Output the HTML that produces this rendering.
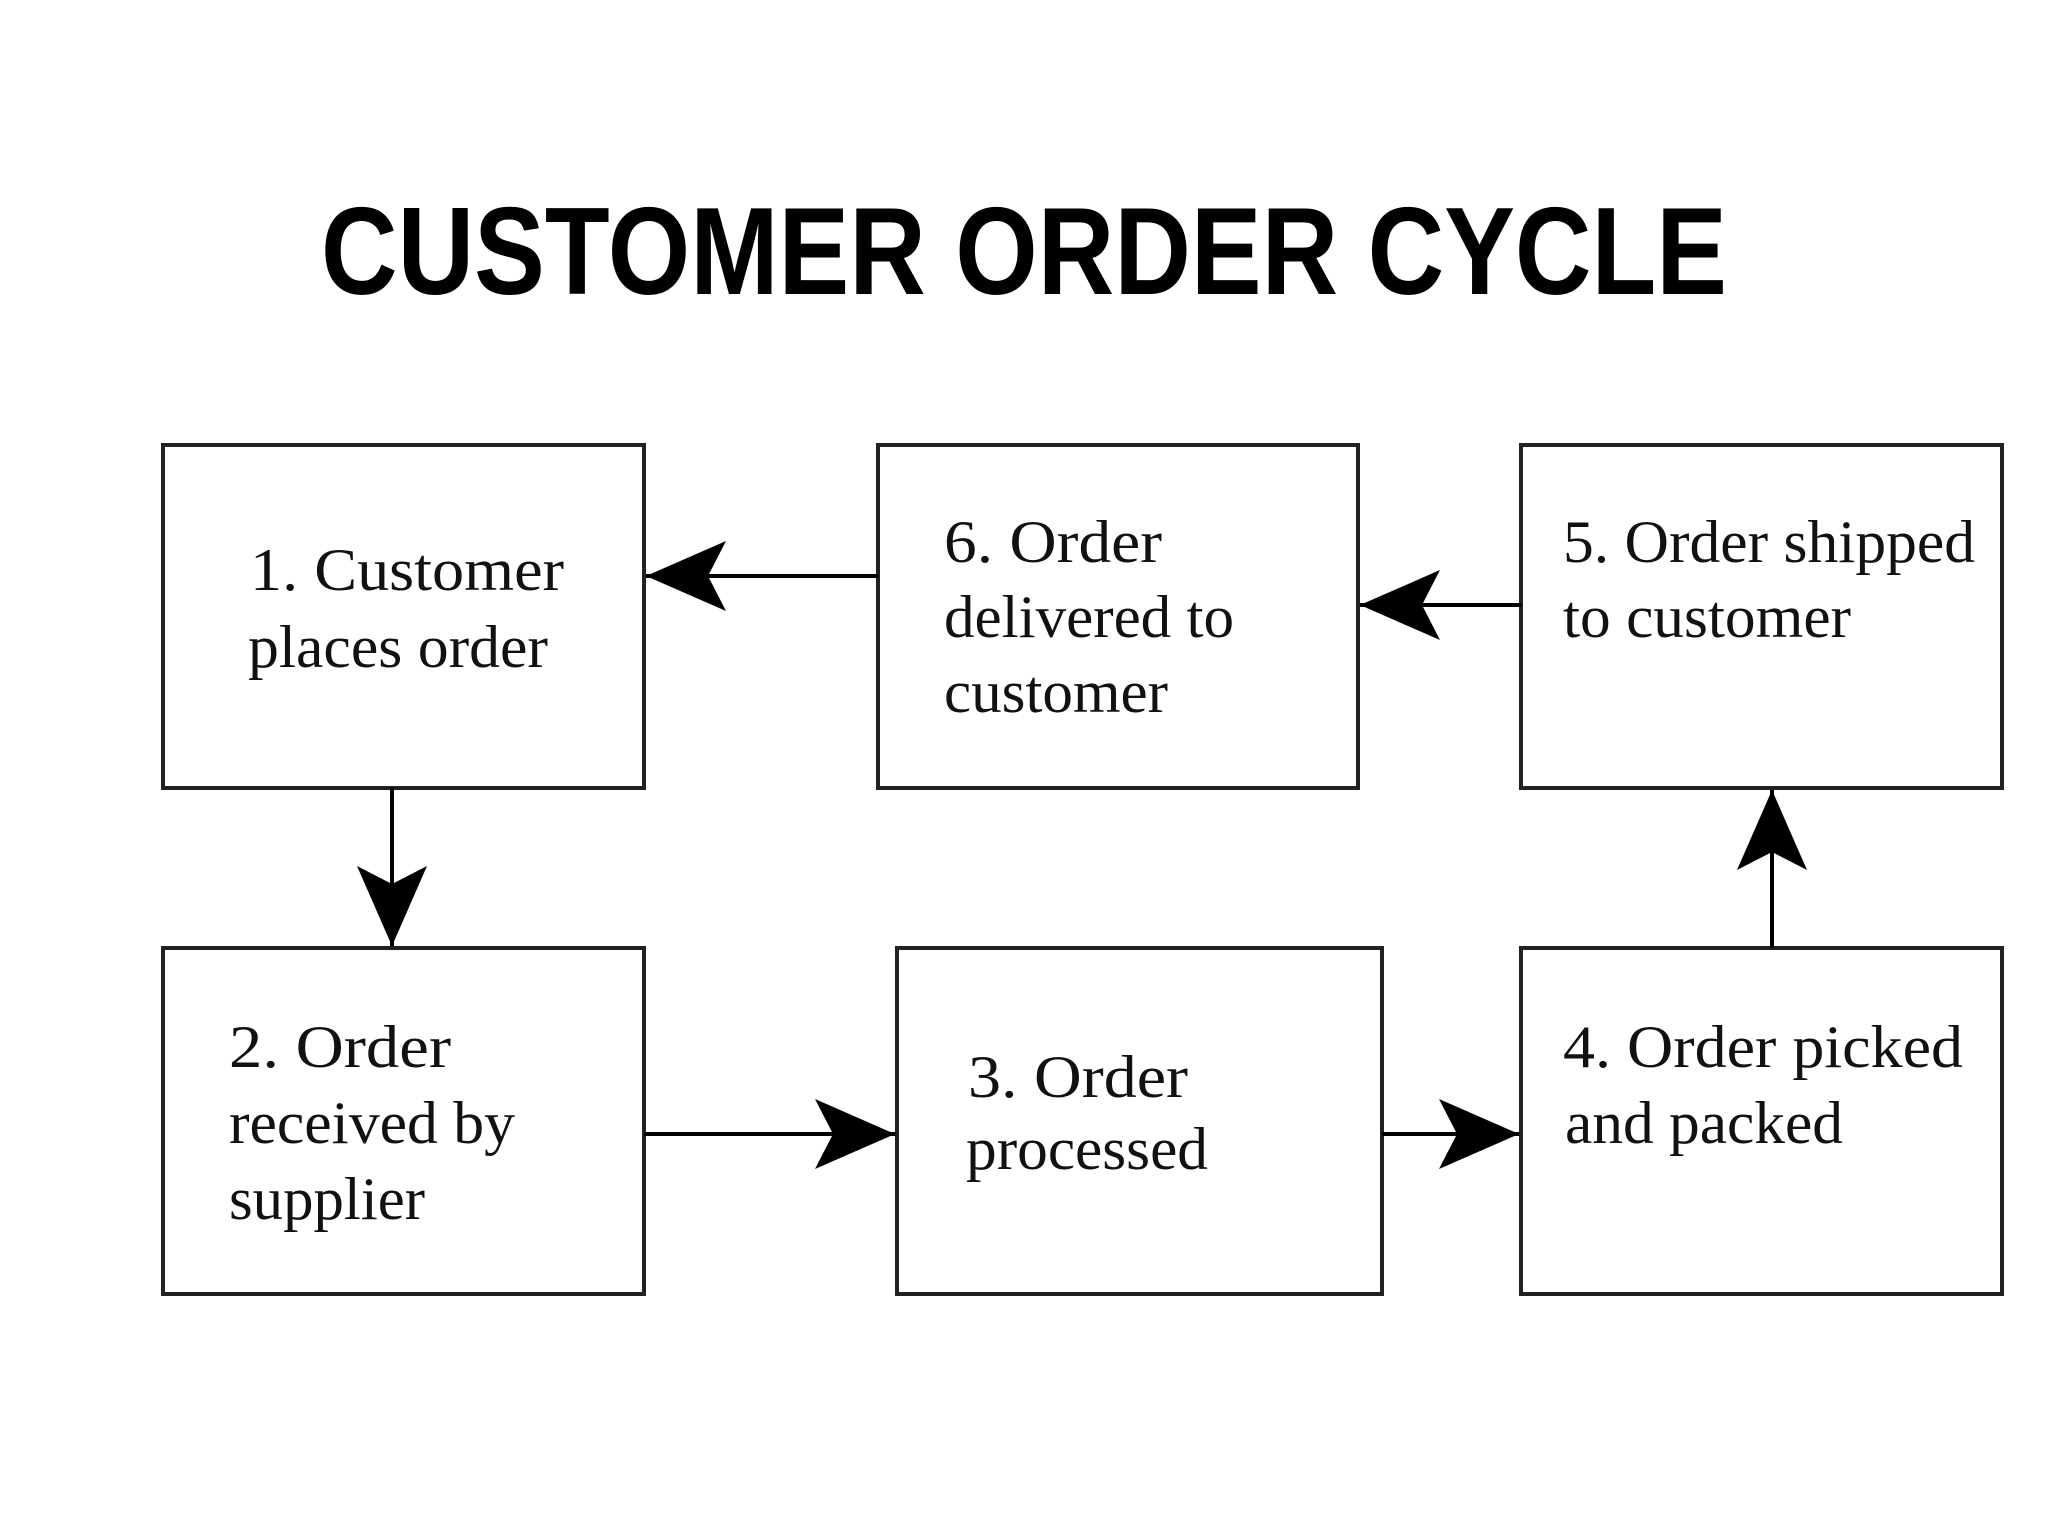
<!DOCTYPE html>
<html><head><style>html,body{margin:0;padding:0;background:#fff}svg{display:block}</style></head>
<body>
<svg width="2048" height="1536" viewBox="0 0 2048 1536" xmlns="http://www.w3.org/2000/svg">
<defs>
<marker id="a" viewBox="0 0 80 70" refX="80" refY="35" markerWidth="80" markerHeight="70" markerUnits="userSpaceOnUse" orient="auto">
<path d="M0,0 L80,35 L0,70 L18,35 Z" fill="#000"/>
</marker>
</defs>
<text x="1024" y="294" text-anchor="middle" font-family="Liberation Sans, sans-serif" font-weight="bold" font-size="124" textLength="1406" lengthAdjust="spacingAndGlyphs">CUSTOMER ORDER CYCLE</text>
<g fill="none" stroke="#222" stroke-width="4">
<rect x="163" y="445" width="481" height="343"/>
<rect x="878" y="445" width="480" height="343"/>
<rect x="1521" y="445" width="481" height="343"/>
<rect x="163" y="948" width="481" height="346"/>
<rect x="897" y="948" width="485" height="346"/>
<rect x="1521" y="948" width="481" height="346"/>
</g>
<g stroke="#000" stroke-width="4" marker-end="url(#a)">
<line x1="878" y1="576" x2="646" y2="576"/>
<line x1="1521" y1="605" x2="1360" y2="605"/>
<line x1="392" y1="788" x2="392" y2="946"/>
<line x1="644" y1="1134" x2="895" y2="1134"/>
<line x1="1382" y1="1134" x2="1519" y2="1134"/>
<line x1="1772" y1="948" x2="1772" y2="790"/>
</g>
<g font-family="Liberation Serif, serif" font-size="60" fill="#111" lengthAdjust="spacingAndGlyphs">
<text x="250" y="590" textLength="314" lengthAdjust="spacingAndGlyphs">1.  Customer</text>
<text x="248" y="667" textLength="300" lengthAdjust="spacingAndGlyphs">places order</text>
<text x="944" y="562" textLength="218" lengthAdjust="spacingAndGlyphs">6.  Order</text>
<text x="944" y="637" textLength="290" lengthAdjust="spacingAndGlyphs">delivered to</text>
<text x="944" y="712" textLength="224" lengthAdjust="spacingAndGlyphs">customer</text>
<text x="1563" y="562" textLength="412" lengthAdjust="spacingAndGlyphs">5. Order shipped</text>
<text x="1563" y="637" textLength="288" lengthAdjust="spacingAndGlyphs">to customer</text>
<text x="229" y="1067" textLength="222" lengthAdjust="spacingAndGlyphs">2.  Order</text>
<text x="229" y="1143" textLength="286" lengthAdjust="spacingAndGlyphs">received by</text>
<text x="229" y="1219" textLength="196" lengthAdjust="spacingAndGlyphs">supplier</text>
<text x="968" y="1097" textLength="220" lengthAdjust="spacingAndGlyphs">3.  Order</text>
<text x="966" y="1169" textLength="242" lengthAdjust="spacingAndGlyphs">processed</text>
<text x="1563" y="1067" textLength="400" lengthAdjust="spacingAndGlyphs">4.  Order picked</text>
<text x="1565" y="1143" textLength="278" lengthAdjust="spacingAndGlyphs">and packed</text>
</g>
</svg>
</body></html>
